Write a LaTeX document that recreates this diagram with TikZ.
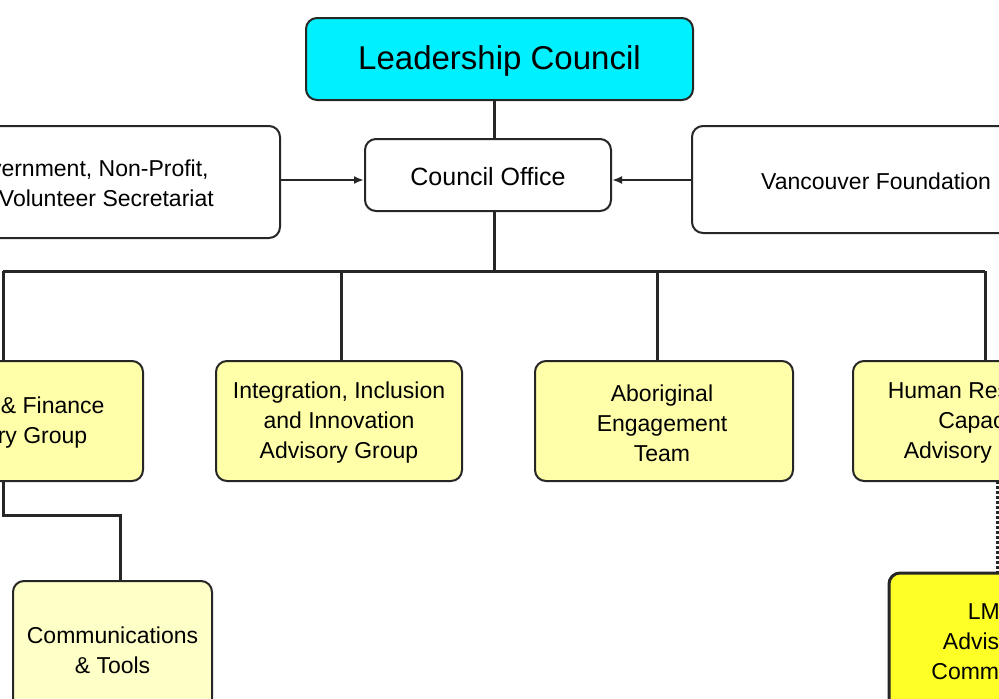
\documentclass[tikz,border=0pt]{standalone}
\usepackage{fontspec}
\setmainfont{Liberation Sans}
\usetikzlibrary{arrows.meta}
\begin{document}
\begin{tikzpicture}[x=1pt,y=-1pt,
 bx/.style={draw=black!85,line width=2pt,rounded corners=11pt,inner sep=0pt},
 tx/.style={font=\fontsize{23}{30}\selectfont,align=center,inner sep=0pt},
 ln/.style={line width=3pt,draw=black!85},
 ar/.style={line width=2pt,draw=black!85,-{Latex[length=10pt,width=8pt]}}]
\useasboundingbox (0,0) rectangle (999,699);
\clip (0,0) rectangle (999,699);
\definecolor{cy}{RGB}{0,240,255}
\definecolor{ly}{RGB}{255,255,170}
\definecolor{ly2}{RGB}{255,255,200}
\definecolor{by}{RGB}{255,255,40}
\node[bx,fill=cy,minimum width=387pt,minimum height=82pt] (lc) at (499.5,59) {};
\node[tx,font=\fontsize{33}{36}\selectfont] (lct) at (499.5,61) {Leadership Council};
\node[bx,fill=white,minimum width=246pt,minimum height=72pt] (co) at (488,175) {};
\node[tx,font=\fontsize{25}{30}\selectfont] (cot) at (488,177) {Council Office};
\node[bx,fill=white,minimum width=400pt,minimum height=112pt] (gov) at (80,182) {};
\node[tx] (govt) at (84,183) {Government, Non-Profit,\\ and Volunteer Secretariat};
\node[bx,fill=white,minimum width=400pt,minimum height=107pt] (vf) at (892,179.5) {};
\node[tx,anchor=west] (vft) at (761,181) {Vancouver Foundation};
\draw[ln] (494,100) -- (494,139);
\draw[ln] (494,211) -- (494,271);
\draw[ln] (3,271) -- (985,271);
\draw[ar] (280,180) -- (co.west|-0,180);
\draw[ar] (692,180) -- (co.east|-0,180);
\node[bx,fill=ly,minimum width=246pt,minimum height=120pt] (fin) at (20,421) {};
\node[tx] (fint) at (8,423) {Funding \& Finance\\Advisory Group};
\node[bx,fill=ly,minimum width=246pt,minimum height=120pt] (iia) at (339,421) {};
\node[tx] (iiat) at (339,423) {Integration, Inclusion\\and Innovation\\Advisory Group};
\node[bx,fill=ly,minimum width=258pt,minimum height=120pt] (abo) at (664,421) {};
\node[tx] (abot) at (662,423) {Aboriginal\\Engagement\\Team};
\node[bx,fill=ly,minimum width=260pt,minimum height=120pt] (hr) at (983,421) {};
\node[tx] (hrt) at (983,423) {Human Resources\\Capacity\\Advisory Group};
\draw[ln] (3,271) -- (3,361);
\draw[ln] (341,271) -- (341,361);
\draw[ln] (657,271) -- (657,361);
\draw[ln] (985,271) -- (985,361);
\node[bx,fill=ly2,minimum width=199pt,minimum height=160pt] (ct) at (112.5,661) {};
\node[tx] (ctt) at (112.5,650) {Communications\\\& Tools};
\draw[ln] (3,481) -- (3,515) -- (120,515) -- (120,581);
\node[bx,fill=by,line width=3pt,minimum width=220pt,minimum height=160pt] (lmi) at (999,653) {};
\node[tx] (lmit) at (987,642) {LMI\\Advisory\\Committee};
\draw[line width=3pt,draw=black!85,dotted] (997,481) -- (997,573);
\end{tikzpicture}
\end{document}
